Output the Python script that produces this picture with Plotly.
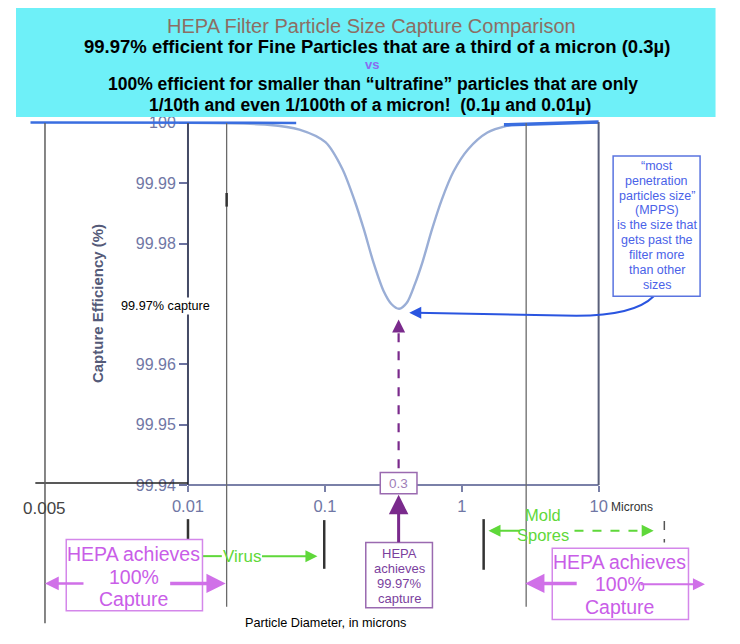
import plotly.graph_objects as go

# HEPA capture efficiency curve
particle_size = [0.01, 0.0381, 0.0652, 0.101, 0.134, 0.165, 0.193, 0.227, 0.269, 0.306,
                 0.349, 0.397, 0.453, 0.516, 0.607, 0.715, 0.869, 1.11, 1.54, 2.13, 3.0, 10]
efficiency = [100, 99.9997, 99.9989, 99.9968, 99.9924, 99.9871, 99.9823, 99.9768, 99.9721, 99.9700,
              99.9692, 99.9702, 99.9732, 99.9769, 99.9824, 99.9873, 99.9919, 99.9956, 99.9984, 99.9995,
              100, 100]

y_tickvals = [99.94, 99.95, 99.96, 99.98, 99.99, 100]
y_ticktext = ["99.94", "99.95", "99.96", "99.98", "99.99", "100"]
x_tickvals = [0.01, 0.1, 1, 10]
x_ticktext = ["0.01", "0.1", "1", "10"]

title_lines = [
    "HEPA Filter Particle Size Capture Comparison",
    "99.97% efficient for Fine Particles that are a third of a micron (0.3µ)",
    "vs",
    "100% efficient for smaller than “ultrafine” particles that are only",
    "1/10th and even 1/100th of a micron!  (0.1µ and 0.01µ)",
]
mpps_lines = ["“most", "penetration", "particles size”", "(MPPS)", "is the size that",
              "gets past the", "filter more", "than other", "sizes"]
hepa_0_3_lines = ["HEPA", "achieves", "99.97%", "capture"]
hepa_100_lines = ["HEPA achieves", "100%", "Capture"]

W, H = 740, 644
FONT = "Liberation Sans"
BLUE = "#3a6ee0"
PURPLE = "#7a2a8c"
PINK = "#c95de8"
GREEN = "#5fd83a"


def px(x):
    return x / W


def py(y):
    return 1 - y / H


shapes = []
annotations = []


def line(x0, y0, x1, y1, color, width=1.5, dash="solid"):
    shapes.append(dict(type="line", xref="paper", yref="paper",
                       x0=px(x0), y0=py(y0), x1=px(x1), y1=py(y1),
                       line=dict(color=color, width=width, dash=dash), layer="above"))


def rect(x0, y0, x1, y1, color, width=1.5, fill="white"):
    shapes.append(dict(type="rect", xref="paper", yref="paper",
                       x0=px(x0), y0=py(y1), x1=px(x1), y1=py(y0),
                       line=dict(color=color, width=width), fillcolor=fill, layer="above"))


def arrow(xt, yt, xs, ys, color, width=2, head=2, size=1.0):
    annotations.append(dict(xref="paper", yref="paper", x=px(xt), y=py(yt), text="",
                            showarrow=True, ax=xs - xt, ay=ys - yt, axref="pixel", ayref="pixel",
                            arrowhead=head, arrowsize=size, arrowwidth=width, arrowcolor=color,
                            standoff=0, startstandoff=0))


def text(s, x, y, size, color, bold=False, **kw):
    if bold:
        s = "<b>" + s + "</b>"
    annotations.append(dict(xref="paper", yref="paper", x=px(x), y=py(y), text=s,
                            showarrow=False, xanchor="center", yanchor="middle",
                            font=dict(family=FONT, size=size, color=color), **kw))


def stacked(lines, x, y_first, step, size, color):
    for i, s in enumerate(lines):
        text(s, x, y_first + i * step, size, color)


fig = go.Figure()
fig.add_trace(go.Scatter(x=particle_size, y=efficiency, mode="lines",
                         line=dict(color="#9aaed6", width=2.4, shape="spline", smoothing=0.8),
                         hoverinfo="skip"))

# banner
shapes.append(dict(type="rect", xref="paper", yref="paper", x0=0, x1=px(724), y0=py(112), y1=1,
                   fillcolor="#6ef0f8", line=dict(width=0), layer="above"))
text(title_lines[0], 368, 18, 20, "#8c6e64")
text(title_lines[1], 374, 40, 18.5, "black", bold=True)
text(title_lines[2], 368, 58, 13, "#8a6cf0", bold=True)
text(title_lines[3], 369, 78, 17.5, "black", bold=True)
text(title_lines[4], 366, 100, 17.5, "black", bold=True)

# frame and guide lines
line(15, 117.5, 290, 118, BLUE, 2.5)
line(505, 120, 603, 117, BLUE, 3.5)
line(178, 490, 603, 490, "#7a80a8", 2)
line(178, 118, 178, 490, "#454b66", 2)
line(603, 117, 603, 490, "#5a607a", 2)
line(20, 488, 178, 488, "#222222", 1.5)
line(30, 118, 30, 632, "#5e5e5e", 1.5)
line(218, 118, 218, 615, "#6a6a6a", 1.3)
line(528, 118, 528, 615, "#6a6a6a", 1.3)
line(218, 190, 218, 204, "#333333", 2.5)

# size markers below the axis
line(178, 525, 178, 547, "#333333", 2.5)
line(319, 526, 319, 576, "#333333", 2.5)
line(484, 525, 484, 577, "#333333", 2.5)
line(671, 527, 671, 549, "#555555", 1.5, dash="dash")

# axis side labels
text("0.005", 29, 514, 17, "#444444")
text("Microns", 638, 513, 12, "#333333")
text("Particle Diameter, in microns", 320, 632, 12.7, "black")
text("<b>Capture Efficiency (%)</b>", 85, 304, 15, "#545a78", textangle=-90)
text("99.97% capture", 155, 306, 12.7, "black", bgcolor="white")

# MPPS callout
shapes.append(dict(type="path", xref="paper", yref="paper",
                   path=f"M {px(660)},{py(296)} Q {px(640)},{py(316)} {px(580)},{py(316)} L {px(414)},{py(313)}",
                   line=dict(color="#2a55e0", width=2), layer="above"))
arrow(407, 313, 419, 313, "#2a55e0", 2, head=2, size=1.2)
rect(618, 152, 708, 296, "#5a74e0", 1.5)
stacked(mpps_lines, 663, 162, 15.3, 12.5, "#4a62e8")

# 0.3 micron marker
line(396, 334, 396, 477, PURPLE, 2.2, dash="dash")
arrow(396, 320, 396, 334, PURPLE, 2, head=2, size=1.3)
arrow(396, 500, 396, 549, PURPLE, 3, head=2, size=1.3)
rect(377, 477, 415, 499, "#9a6ab0", 1.5)
text("0.3", 396, 488, 13.5, "#a080b8")
rect(362, 549, 431, 616, "#9a6ab0", 1.5)
stacked(hepa_0_3_lines, 397, 560, 15.4, 13, "#7b3f9e")

# virus range
line(193, 563, 213, 563, GREEN, 2)
text("Virus", 234, 563, 17, GREEN)
arrow(312, 563, 255, 563, GREEN, 2, head=2, size=1.2)

# mold spores range
arrow(489, 537, 522, 537, GREEN, 2, head=2, size=1.2)
line(578, 537, 654, 537, GREEN, 2, dash="dash")
arrow(660, 537, 652, 537, GREEN, 2, head=2, size=1.2)
text("Mold", 545, 521, 16.5, GREEN)
text("Spores", 545, 541, 16.5, GREEN)

# 100% capture boxes
rect(52, 546, 193, 619, "#d487ea", 1.5)
stacked(hepa_100_lines, 122, 561, 23, 19.5, PINK)
arrow(30, 591, 70, 591, "#d070e8", 2.5, head=2, size=1.1)
arrow(217, 591, 160, 591, "#d070e8", 3.5, head=2, size=1.1)
rect(555, 555, 696, 628, "#d487ea", 1.5)
stacked(hepa_100_lines, 625, 569, 23, 19.5, PINK)
arrow(527, 591, 580, 591, "#d070e8", 3.5, head=2, size=1.1)
arrow(713, 592, 647, 592, "#d070e8", 2, head=2, size=1.2)

fig.update_layout(
    width=W, height=H,
    margin=dict(l=0, r=0, t=0, b=0),
    paper_bgcolor="white", plot_bgcolor="white",
    showlegend=False,
    shapes=shapes, annotations=annotations,
    xaxis=dict(type="log", range=[-2, 1], domain=[178 / W, 603 / W],
               tickvals=x_tickvals, ticktext=x_ticktext, ticks="outside", ticklen=6,
               tickcolor="#7a80a8", tickwidth=1.5, showgrid=False, zeroline=False, showline=False,
               tickfont=dict(family=FONT, size=16.5, color="#7077a5")),
    yaxis=dict(range=[99.94, 100], domain=[(H - 490) / H, (H - 118) / H],
               tickvals=y_tickvals, ticktext=y_ticktext, ticks="outside", ticklen=8,
               tickcolor="#6b72a0", tickwidth=1.5, showgrid=False, zeroline=False, showline=False,
               tickfont=dict(family=FONT, size=16, color="#7077a5")),
)

fig.write_html("out.html", config={"displayModeBar": False},
               post_script="document.body.style.margin='0';document.body.style.overflow='hidden';")
